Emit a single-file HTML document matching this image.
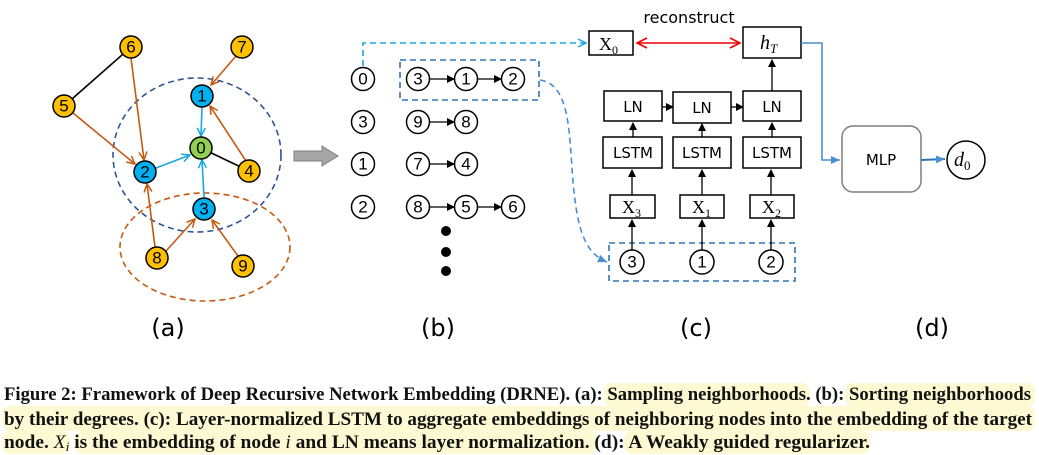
<!DOCTYPE html>
<html><head><meta charset="utf-8"><style>
body{margin:0;background:#fff;width:1039px;height:455px;overflow:hidden}
svg{display:block}
.n{font-family:"Liberation Sans",sans-serif;font-size:17px;text-anchor:middle;dominant-baseline:central}
.c{font-family:"Liberation Serif",serif;font-weight:bold;font-size:18.5px;fill:#111}
.l{font-family:"DejaVu Sans",sans-serif;font-size:24px;text-anchor:middle}
.b{font-family:"DejaVu Sans",sans-serif;font-size:15px;text-anchor:middle;dominant-baseline:central}
</style></head><body>
<svg width="1039" height="455" viewBox="0 0 1039 455">
<defs>
<marker id="ao" markerWidth="10" markerHeight="10" refX="9" refY="5" orient="auto" markerUnits="userSpaceOnUse"><path d="M1,1 L9,5 L1,9" fill="none" stroke="#c55a11" stroke-width="1.5"/></marker>
<marker id="ab" markerWidth="10" markerHeight="10" refX="9" refY="5" orient="auto" markerUnits="userSpaceOnUse"><path d="M1,1 L9,5 L1,9" fill="none" stroke="#1aa7e0" stroke-width="1.5"/></marker>
<marker id="ak" markerWidth="8" markerHeight="8" refX="7" refY="4" orient="auto" markerUnits="userSpaceOnUse"><path d="M0,0 L8,4 L0,8z" fill="#000"/></marker>
<marker id="abl" markerWidth="10" markerHeight="10" refX="9" refY="5" orient="auto" markerUnits="userSpaceOnUse"><path d="M0,1 L9,5 L0,9z" fill="#4a8fd0"/></marker>
<marker id="ar" markerWidth="12" markerHeight="12" refX="11" refY="6" orient="auto-start-reverse" markerUnits="userSpaceOnUse"><path d="M1,1 L11,6 L1,11" fill="none" stroke="#e00" stroke-width="1.6"/></marker>
</defs>
<!-- panel a -->
<ellipse cx="197" cy="155" rx="84" ry="77" fill="none" stroke="#2f5597" stroke-width="1.6" stroke-dasharray="6,4"/>
<ellipse cx="205" cy="247" rx="85" ry="54" fill="none" stroke="#c55a11" stroke-width="1.6" stroke-dasharray="6,4"/>
<g stroke-width="1.6">
<line x1="131" y1="47" x2="64" y2="106" stroke="#000"/>
<line x1="201" y1="148" x2="249" y2="171" stroke="#000"/>
<line x1="131" y1="58" x2="144" y2="160" stroke="#c55a11" marker-end="url(#ao)"/>
<line x1="73" y1="113" x2="135" y2="164" stroke="#c55a11" marker-end="url(#ao)"/>
<line x1="236" y1="56" x2="211" y2="85" stroke="#c55a11" marker-end="url(#ao)"/>
<line x1="246" y1="161" x2="210" y2="106" stroke="#c55a11" marker-end="url(#ao)"/>
<line x1="155" y1="247" x2="147" y2="184" stroke="#c55a11" marker-end="url(#ao)"/>
<line x1="166" y1="251" x2="195" y2="219" stroke="#c55a11" marker-end="url(#ao)"/>
<line x1="238" y1="256" x2="212" y2="220" stroke="#c55a11" marker-end="url(#ao)"/>
<line x1="202" y1="107" x2="201" y2="136" stroke="#1aa7e0" marker-end="url(#ab)"/>
<line x1="156" y1="168" x2="190" y2="155" stroke="#1aa7e0" marker-end="url(#ab)"/>
<line x1="204" y1="197" x2="202" y2="160" stroke="#1aa7e0" marker-end="url(#ab)"/>
</g>
<g stroke="#000" stroke-width="1.5">
<circle cx="131" cy="47" r="11" fill="#ffc000"/><circle cx="242" cy="47" r="11" fill="#ffc000"/>
<circle cx="64" cy="106" r="11" fill="#ffc000"/><circle cx="202" cy="96" r="11" fill="#00b0f0"/>
<circle cx="201" cy="148" r="11" fill="#92d050"/><circle cx="145" cy="172" r="11" fill="#00b0f0"/>
<circle cx="249" cy="171" r="11" fill="#ffc000"/><circle cx="204" cy="209" r="11" fill="#00b0f0"/>
<circle cx="157" cy="258" r="11" fill="#ffc000"/><circle cx="243" cy="266" r="11" fill="#ffc000"/>
</g>
<g class="n"><text x="131" y="47">6</text><text x="242" y="47">7</text><text x="64" y="106">5</text><text x="202" y="96">1</text><text x="201" y="148">0</text><text x="145" y="172">2</text><text x="249" y="171">4</text><text x="204" y="209">3</text><text x="157" y="258">8</text><text x="243" y="266">9</text></g>
<path d="M294,151 H322 V146 L338,156 L322,166 V161 H294z" fill="#a6a6a6" stroke="#7f7f7f"/>
<!-- panel b -->
<rect x="400" y="60" width="139" height="40" fill="none" stroke="#2e75b6" stroke-width="1.6" stroke-dasharray="6,4"/>
<path d="M363,66 V43 H586" fill="none" stroke="#1aa7e0" stroke-width="1.6" stroke-dasharray="6,4" marker-end="url(#ab)"/>
<path d="M540,80 C575,85 568,150 575,200 C580,240 590,255 607,262" fill="none" stroke="#4a8fd0" stroke-width="1.6" stroke-dasharray="6,4" marker-end="url(#abl)"/>
<g stroke="#000" stroke-width="1.3" fill="none">
<line x1="430" y1="79" x2="454" y2="79" marker-end="url(#ak)"/><line x1="478" y1="79" x2="501" y2="79" marker-end="url(#ak)"/>
<line x1="430" y1="122" x2="454" y2="122" marker-end="url(#ak)"/>
<line x1="430" y1="164" x2="454" y2="164" marker-end="url(#ak)"/>
<line x1="430" y1="207" x2="454" y2="207" marker-end="url(#ak)"/><line x1="478" y1="207" x2="501" y2="207" marker-end="url(#ak)"/>
</g>
<g stroke="#000" stroke-width="1.5" fill="#fff">
<circle cx="363" cy="79" r="11.5"/><circle cx="363" cy="122" r="11.5"/><circle cx="363" cy="164" r="11.5"/><circle cx="363" cy="207" r="11.5"/>
<circle cx="418" cy="79" r="11.5"/><circle cx="466" cy="79" r="11.5"/><circle cx="513" cy="79" r="11.5"/>
<circle cx="418" cy="122" r="11.5"/><circle cx="466" cy="122" r="11.5"/>
<circle cx="418" cy="164" r="11.5"/><circle cx="466" cy="164" r="11.5"/>
<circle cx="418" cy="207" r="11.5"/><circle cx="466" cy="207" r="11.5"/><circle cx="513" cy="207" r="11.5"/>
</g>
<g class="n"><text x="363" y="79">0</text><text x="363" y="122">3</text><text x="363" y="164">1</text><text x="363" y="207">2</text>
<text x="418" y="79">3</text><text x="466" y="79">1</text><text x="513" y="79">2</text>
<text x="418" y="122">9</text><text x="466" y="122">8</text><text x="418" y="164">7</text><text x="466" y="164">4</text>
<text x="418" y="207">8</text><text x="466" y="207">5</text><text x="513" y="207">6</text></g>
<circle cx="446" cy="231" r="5"/><circle cx="446" cy="252" r="5"/><circle cx="446" cy="271" r="5"/>
<!-- panel c -->
<rect x="609" y="243" width="186" height="38" fill="none" stroke="#2e75b6" stroke-width="1.6" stroke-dasharray="6,4"/>
<g stroke="#000" stroke-width="1.3" fill="none">
<line x1="632" y1="250" x2="632" y2="220" marker-end="url(#ak)"/><line x1="702" y1="250" x2="702" y2="220" marker-end="url(#ak)"/><line x1="771" y1="250" x2="771" y2="220" marker-end="url(#ak)"/>
<line x1="632" y1="195" x2="632" y2="170" marker-end="url(#ak)"/><line x1="702" y1="195" x2="702" y2="170" marker-end="url(#ak)"/><line x1="771" y1="195" x2="771" y2="170" marker-end="url(#ak)"/>
<line x1="633" y1="137" x2="633" y2="123" marker-end="url(#ak)"/><line x1="702" y1="137" x2="702" y2="124" marker-end="url(#ak)"/><line x1="772" y1="137" x2="772" y2="123" marker-end="url(#ak)"/>
<line x1="662" y1="107" x2="673" y2="107" marker-end="url(#ak)"/><line x1="731" y1="107" x2="743" y2="107" marker-end="url(#ak)"/>
<line x1="772" y1="91" x2="772" y2="60" marker-end="url(#ak)"/>
</g>
<g stroke="#000" stroke-width="1.5" fill="#fff">
<circle cx="632" cy="262" r="12"/><circle cx="702" cy="262" r="12"/><circle cx="771" cy="262" r="12"/>
<rect x="610" y="195" width="45" height="23"/><rect x="680" y="195" width="44" height="23"/><rect x="750" y="195" width="44" height="23"/>
<rect x="603" y="137" width="59" height="31"/><rect x="673" y="137" width="58" height="31"/><rect x="743" y="137" width="58" height="31"/>
<rect x="604" y="91" width="58" height="30"/><rect x="673" y="92" width="58" height="31"/><rect x="743" y="91" width="58" height="30"/>
<rect x="589" y="31" width="44" height="24"/><rect x="743" y="27" width="58" height="31"/>
</g>
<g class="n"><text x="632" y="262">3</text><text x="702" y="262">1</text><text x="771" y="262">2</text></g>
<g font-family="Liberation Serif,serif" font-size="18"><text x="622" y="213">X<tspan font-size="12" dy="4">3</tspan></text><text x="692" y="213">X<tspan font-size="12" dy="4">1</tspan></text><text x="762" y="213">X<tspan font-size="12" dy="4">2</tspan></text>
<text x="599" y="50">X<tspan font-size="12" dy="4">0</tspan></text>
<text x="760" y="49" font-style="italic" font-size="20">h<tspan font-size="13" dy="4">T</tspan></text></g>
<g class="b"><text x="633" y="153">LSTM</text><text x="702" y="153">LSTM</text><text x="772" y="153">LSTM</text><text x="633" y="107">LN</text><text x="702" y="108">LN</text><text x="772" y="107">LN</text></g>
<line x1="637" y1="43" x2="740" y2="43" stroke="#e00" stroke-width="1.6" marker-start="url(#ar)" marker-end="url(#ar)"/>
<text x="689" y="23" font-family="DejaVu Sans,sans-serif" font-size="16" text-anchor="middle">reconstruct</text>
<!-- panel d -->
<path d="M801,43 H822 V160 H840" fill="none" stroke="#4a8fd0" stroke-width="1.6" marker-end="url(#abl)"/>
<rect x="842" y="126" width="79" height="66" rx="11" fill="#fff" stroke="#7f7f7f" stroke-width="1.5"/>
<text x="881" y="160" class="b" font-size="18">MLP</text>
<line x1="921" y1="160" x2="945" y2="159" stroke="#2e75b6" stroke-width="2" marker-end="url(#abl)"/>
<circle cx="966" cy="160" r="19" fill="#fff" stroke="#000" stroke-width="1.5"/>
<text x="954" y="166" font-family="Liberation Serif,serif" font-style="italic" font-size="20">d<tspan font-size="13" dy="4" font-style="normal">0</tspan></text>
<g class="l"><text x="168" y="336">(a)</text><text x="438" y="336">(b)</text><text x="696" y="336">(c)</text><text x="932" y="336">(d)</text></g>
<!-- caption -->
<g fill="#fdf9d2">
<rect x="604" y="383" width="206" height="23" rx="8"/><rect x="845" y="383" width="190" height="23" rx="8"/>
<rect x="2" y="406" width="1033" height="25" rx="8"/>
<rect x="2" y="431" width="68" height="23" rx="8"/><rect x="75" y="431" width="522" height="23" rx="8"/><rect x="624" y="431" width="246" height="23" rx="8"/>
</g>
<text class="c" x="4" y="400" textLength="1027" lengthAdjust="spacingAndGlyphs">Figure 2: Framework of Deep Recursive Network Embedding (DRNE). (a): Sampling neighborhoods. (b): Sorting neighborhoods</text>
<text class="c" x="4" y="425" textLength="1028" lengthAdjust="spacingAndGlyphs">by their degrees. (c): Layer-normalized LSTM to aggregate embeddings of neighboring nodes into the embedding of the target</text>
<text class="c" x="4" y="448" textLength="866" lengthAdjust="spacingAndGlyphs">node. <tspan font-style="italic" font-weight="normal">X<tspan font-size="13" dy="3">i</tspan></tspan><tspan dy="-3"> is the embedding of node </tspan><tspan font-style="italic" font-weight="normal">i</tspan> and LN means layer normalization. (d): A Weakly guided regularizer.</text>
</svg>
</body></html>
